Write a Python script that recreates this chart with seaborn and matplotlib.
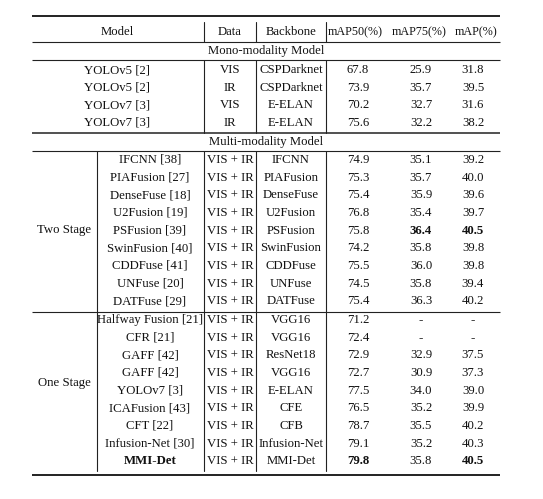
import matplotlib
matplotlib.use("Agg")
import matplotlib.pyplot as plt
import seaborn as sns

# Table data
mono_models = ["YOLOv5 [2]", "YOLOv5 [2]", "YOLOv7 [3]", "YOLOv7 [3]"]
mono_data = ["VIS", "IR", "VIS", "IR"]
mono_backbone = ["CSPDarknet", "CSPDarknet", "E-ELAN", "E-ELAN"]
mono_map50 = ["67.8", "73.9", "70.2", "75.6"]
mono_map75 = ["25.9", "35.7", "32.7", "32.2"]
mono_map = ["31.8", "39.5", "31.6", "38.2"]

two_models = ["IFCNN [38]", "PIAFusion [27]", "DenseFuse [18]", "U2Fusion [19]", "PSFusion [39]",
              "SwinFusion [40]", "CDDFuse [41]", "UNFuse [20]", "DATFuse [29]"]
two_backbone = ["IFCNN", "PIAFusion", "DenseFuse", "U2Fusion", "PSFusion",
                "SwinFusion", "CDDFuse", "UNFuse", "DATFuse"]
two_map50 = ["74.9", "75.3", "75.4", "76.8", "75.8", "74.2", "75.5", "74.5", "75.4"]
two_map75 = ["35.1", "35.7", "35.9", "35.4", "36.4", "35.8", "36.0", "35.8", "36.3"]
two_map = ["39.2", "40.0", "39.6", "39.7", "40.5", "39.8", "39.8", "39.4", "40.2"]

one_models = ["Halfway Fusion [21]", "CFR [21]", "GAFF [42]", "GAFF [42]", "YOLOv7 [3]",
              "ICAFusion [43]", "CFT [22]", "Infusion-Net [30]", "MMI-Det"]
one_backbone = ["VGG16", "VGG16", "ResNet18", "VGG16", "E-ELAN", "CFE", "CFB",
                "Infusion-Net", "MMI-Det"]
one_map50 = ["71.2", "72.4", "72.9", "72.7", "77.5", "76.5", "78.7", "79.1", "79.8"]
one_map75 = ["-", "-", "32.9", "30.9", "34.0", "35.2", "35.5", "35.2", "35.8"]
one_map = ["-", "-", "37.5", "37.3", "39.0", "39.9", "40.2", "40.3", "40.5"]

# bold cells: (section, row, column index 0..5)
bold = {("two", 4, 4), ("two", 4, 5), ("one", 8, 0), ("one", 8, 3), ("one", 8, 5),
        ("one", 0, 4), ("one", 0, 5), ("one", 1, 4), ("one", 1, 5)}

sns.set_theme(style="white")
plt.rcParams["font.family"] = ["Liberation Serif", "DejaVu Serif"]

fig = plt.figure(figsize=(5.43, 4.99), dpi=100)
ax = fig.add_axes([0, 0, 1, 1])
ax.set_xlim(0, 543)
ax.set_ylim(499, 0)
ax.axis("off")

FS = 9.2
L, R = 32, 500
xc_data, xc_bb, xc50, xc75, xcm = 230, 291, 358, 421, 473
vlines = [204, 256, 326]

def txt(x, y, s, b=False, fs=FS):
    ax.text(x, y, s, ha="center", va="center", fontsize=fs,
            fontweight="bold" if b else "normal", color="#111111")

def hline(y, lw=0.8):
    ax.plot([L, R], [y, y], color="#222222", lw=lw, solid_capstyle="butt")

def vline(x, y0, y1):
    ax.plot([x, x], [y0, y1], color="#222222", lw=0.8)

# header
hline(16, 1.4)
txt(117, 32, "Model"); txt(xc_data, 32, "Data"); txt(xc_bb, 32, "Backbone")
txt(355, 32, "mAP50(%)", fs=8.7); txt(419, 32, "mAP75(%)", fs=8.7); txt(476, 32, "mAP(%)", fs=8.7)
hline(42)
txt(266, 51, "Mono-modality Model")
hline(60)
for i in range(4):
    y = 70 + i * 17.6
    for j, v in enumerate([mono_models[i], mono_data[i], mono_backbone[i],
                           mono_map50[i], mono_map75[i], mono_map[i]]):
        txt([117, xc_data, xc_bb, xc50, xc75, xcm][j], y, v)
hline(133, 1.1)
txt(266, 142, "Multi-modality Model")
hline(151)
for x in vlines:
    vline(x, 22, 42)
    vline(x, 60, 133)
    vline(x, 151, 471)
vline(97, 151, 471)

cols = [150, xc_data, xc_bb, xc50, xc75, xcm]
for sec, y0, models, bb, a, b_, c in [
        ("two", 160, two_models, two_backbone, two_map50, two_map75, two_map),
        ("one", 320, one_models, one_backbone, one_map50, one_map75, one_map)]:
    for i in range(len(models)):
        y = y0 + i * 17.65
        vals = [models[i], "VIS + IR", bb[i], a[i], b_[i], c[i]]
        for j, v in enumerate(vals):
            txt(cols[j], y, v, (sec, i, j) in bold)
txt(64, 230, "Two Stage")
txt(64, 383, "One Stage")
hline(312)
hline(475, 1.4)

fig.savefig("out.png", dpi=100, facecolor="white")
